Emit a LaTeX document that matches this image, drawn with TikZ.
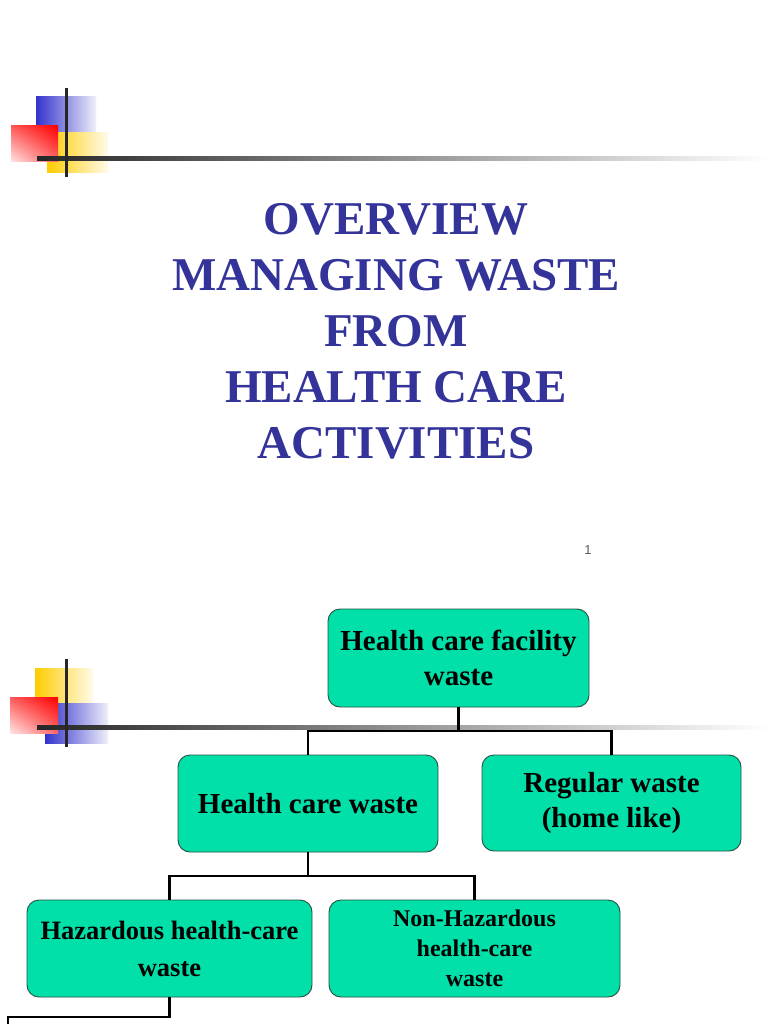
\documentclass[tikz,border=0pt]{standalone}
\usepackage{fontspec}
\usetikzlibrary{shadings}
\setmainfont{Liberation Serif}
\newfontfamily\numfont{Liberation Sans}
\definecolor{titleblue}{RGB}{51,51,153}
\definecolor{boxfill}{RGB}{0,224,168}
\definecolor{boxline}{RGB}{40,80,64}
\definecolor{decoblue}{RGB}{51,51,204}
\definecolor{decored}{RGB}{255,0,0}
\definecolor{decoyellow}{RGB}{255,204,0}
\tikzset{
  wbox/.style={draw=boxline, line width=0.9pt, fill=boxfill, rounded corners=12pt,
    inner sep=0pt, align=center, font=\bfseries\fontsize{29}{35}\selectfont},
  conn/.style={draw=black, line width=2.4pt},
  vbar/.style={draw=black!85, line width=3pt},
  bluesq/.style={left color=decoblue, right color=decoblue!8!white},
  yellowsq/.style={left color=decoyellow, right color=decoyellow!8!white},
  redsq/.style={upper left=decored!65!white, upper right=decored, lower left=decored!10!white, lower right=decored!60!white},
  hline/.style={left color=black!85, middle color=black!58, right color=white}
}
\begin{document}
\begin{tikzpicture}[x=1pt,y=-1pt]
\useasboundingbox (0,0) rectangle (768,1024);
\fill[white] (0,0) rectangle (768,1024);
% ---------- slide 1 decoration ----------
\shade[bluesq] (36,97) rectangle (96,150);
\shade[yellowsq] (47,133) rectangle (108,173);
\shade[redsq] (11,126) rectangle (58,162);
\shade[hline] (37,157) rectangle (768,161);
\draw[vbar] (66,88) -- (66,177);
% ---------- title ----------
\node[titleblue, align=center, font=\bfseries\fontsize{47}{56}\selectfont] (title) at (396,331)
  {OVERVIEW\\MANAGING WASTE\\FROM\\HEALTH CARE\\ACTIVITIES};
\node[text=black!65, font=\numfont\fontsize{13}{15}\selectfont] (pnum) at (588,550) {1};
% ---------- slide 2 decoration ----------
\shade[yellowsq] (35,668) rectangle (93,703);
\shade[bluesq] (45,703) rectangle (108,743);
\shade[redsq] (10,697) rectangle (58,733);
\shade[hline] (37,725) rectangle (768,729);
\draw[vbar] (66,659) -- (66,747);
% ---------- boxes ----------
\node[wbox, minimum width=261pt, minimum height=98pt] (t) at (458.5,658) {Health care facility\\waste};
\node[wbox, minimum width=260pt, minimum height=97pt] (h) at (308,803.5) {Health care waste};
\node[wbox, minimum width=259pt, minimum height=96pt] (r) at (611.5,803) {Regular waste\\(home like)};
\node[wbox, minimum width=285pt, minimum height=97pt, font=\bfseries\fontsize{26.5}{37}\selectfont] (hz) at (169.5,948.5) {Hazardous health-care\\waste};
\node[wbox, minimum width=291pt, minimum height=97pt, font=\bfseries\fontsize{24}{30}\selectfont] (nh) at (474.5,948.5) {Non-Hazardous\\health-care\\waste};
% ---------- connectors ----------
\coordinate (j1) at (459,731);
\coordinate (j2) at (308,876);
\coordinate (j3) at (169,1017);
\coordinate (tail) at (8,1030);
\draw[conn] (t.south) -- (t.south |- j1) -| (h.north);
\draw[conn] (t.south |- j1) -| (r.north);
\draw[conn] (h.south) -- (h.south |- j2) -| (hz.north);
\draw[conn] (h.south |- j2) -| (nh.north);
\draw[conn] (hz.south) -- (hz.south |- j3) -| (tail);
\end{tikzpicture}
\end{document}
